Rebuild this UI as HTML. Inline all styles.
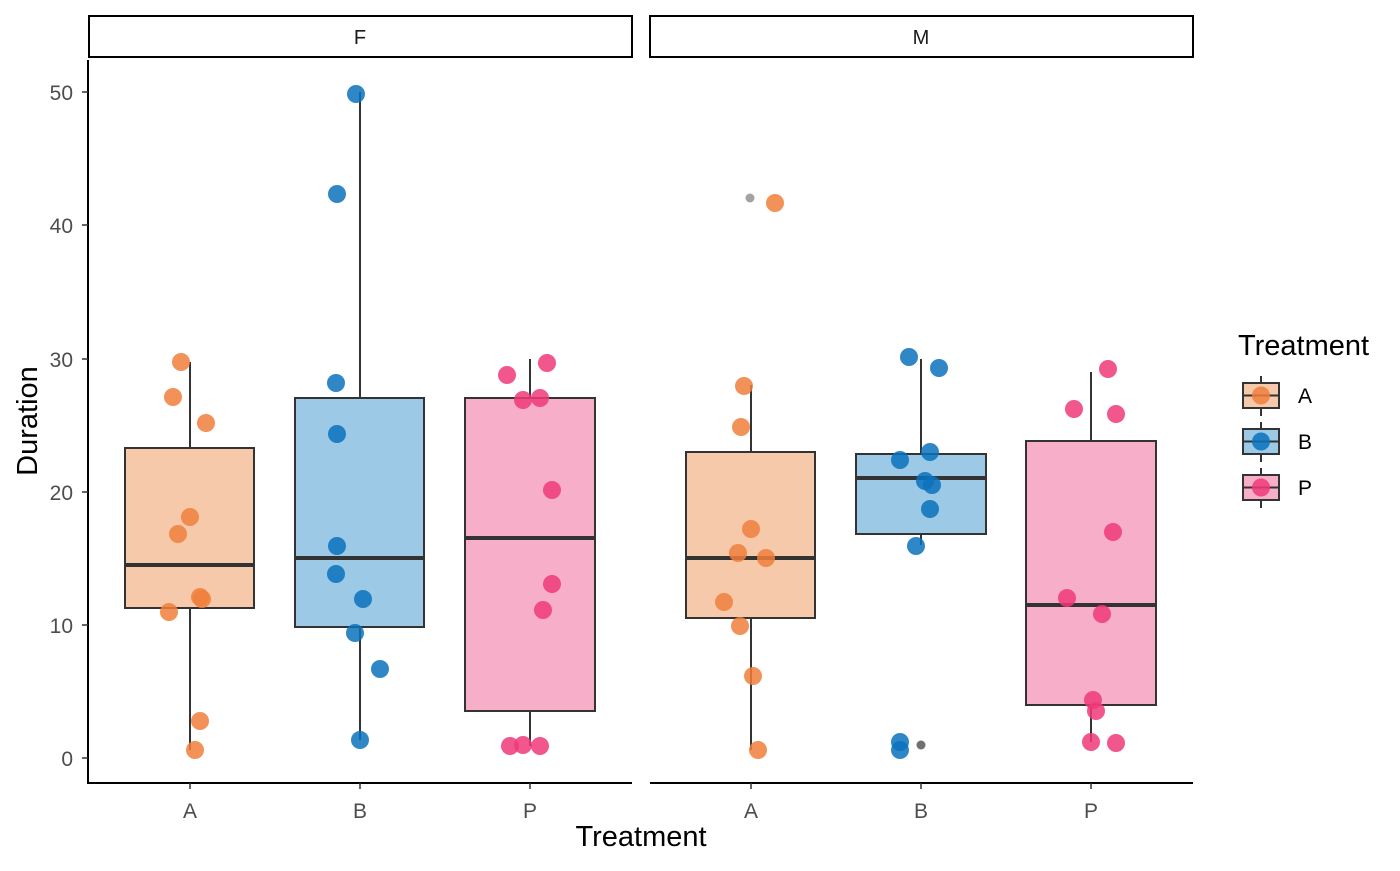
<!DOCTYPE html>
<html><head><style>body{margin:0;background:#fff}svg text{font-family:"Liberation Sans",Arial,sans-serif}</style></head><body>
<svg width="1400" height="866" xmlns="http://www.w3.org/2000/svg">
<rect width="1400" height="866" fill="#fff"/>
<rect x="89" y="16" width="543" height="41" fill="#fff" stroke="#000" stroke-width="2"/>
<rect x="650" y="16" width="543" height="41" fill="#fff" stroke="#000" stroke-width="2"/>
<text x="360" y="44" font-size="20" text-anchor="middle" fill="#1a1a1a">F</text>
<text x="921" y="44" font-size="20" text-anchor="middle" fill="#1a1a1a">M</text>
<g stroke="#000" stroke-width="2" fill="none">
<path d="M88,60V783H632"/><path d="M650,783H1193"/>
</g>
<g stroke="#333" stroke-width="1.5">
<path d="M82,758H88M82,625H88M82,492H88M82,359H88M82,225H88M82,92H88"/>
<path d="M190,783v6M360,783v6M530,783v6M751,783v6M921,783v6M1091,783v6"/>
</g>
<g font-size="21" fill="#4d4d4d" text-anchor="end">
<text x="73" y="766">0</text><text x="73" y="633">10</text><text x="73" y="500">20</text><text x="73" y="367">30</text><text x="73" y="233">40</text><text x="73" y="100">50</text>
</g>
<g font-size="21" fill="#4d4d4d" text-anchor="middle">
<text x="190" y="818">A</text><text x="360" y="818">B</text><text x="530" y="818">P</text>
<text x="751" y="818">A</text><text x="921" y="818">B</text><text x="1091" y="818">P</text>
</g>
<text x="641" y="846" font-size="29" text-anchor="middle" fill="#000">Treatment</text>
<text transform="translate(37,421) rotate(-90)" font-size="29" text-anchor="middle" fill="#000">Duration</text>
<g stroke="#333" stroke-width="2">
<path d="M190,362V448M190,608V750"/><rect x="125" y="448" width="129" height="160" fill="#F7C9AB"/><path d="M125,565H254" stroke-width="4"/>
<path d="M360,92V398M360,627V740"/><rect x="295" y="398" width="129" height="229" fill="#9CC9E6"/><path d="M295,558H424" stroke-width="4"/>
<path d="M530,359V398M530,711V746"/><rect x="465" y="398" width="130" height="313" fill="#F7AFC9"/><path d="M465,538H595" stroke-width="4"/>
<path d="M751,385V452M751,618V750"/><rect x="686" y="452" width="129" height="166" fill="#F7C9AB"/><path d="M686,558H815" stroke-width="4"/>
<path d="M921,359V454M921,534V545"/><rect x="856" y="454" width="130" height="80" fill="#9CC9E6"/><path d="M856,478H986" stroke-width="4"/>
<path d="M1091,372V441M1091,705V742"/><rect x="1026" y="441" width="130" height="264" fill="#F7AFC9"/><path d="M1026,605H1156" stroke-width="4"/>
</g>
<circle cx="750" cy="198" r="4.5" fill="#333" opacity="0.45"/>
<circle cx="921" cy="745" r="4.5" fill="#333" opacity="0.7"/>
<g fill="#F07F3C" fill-opacity="0.85">
<circle cx="181" cy="362" r="9"/><circle cx="173" cy="397" r="9"/><circle cx="206" cy="423" r="9"/><circle cx="190" cy="517" r="9"/><circle cx="178" cy="534" r="9"/><circle cx="169" cy="612" r="9"/><circle cx="200" cy="597" r="9"/><circle cx="202" cy="599" r="9"/><circle cx="200" cy="721" r="9"/><circle cx="195" cy="750" r="9"/>
<circle cx="775" cy="203" r="9"/><circle cx="744" cy="386" r="9"/><circle cx="741" cy="427" r="9"/><circle cx="751" cy="529" r="9"/><circle cx="738" cy="553" r="9"/><circle cx="766" cy="558" r="9"/><circle cx="724" cy="602" r="9"/><circle cx="740" cy="626" r="9"/><circle cx="753" cy="676" r="9"/><circle cx="758" cy="750" r="9"/>
</g>
<g fill="#0A72BC" fill-opacity="0.85">
<circle cx="356" cy="94" r="9"/><circle cx="337" cy="194" r="9"/><circle cx="336" cy="383" r="9"/><circle cx="337" cy="434" r="9"/><circle cx="337" cy="546" r="9"/><circle cx="336" cy="574" r="9"/><circle cx="363" cy="599" r="9"/><circle cx="355" cy="633" r="9"/><circle cx="380" cy="669" r="9"/><circle cx="360" cy="740" r="9"/>
<circle cx="909" cy="357" r="9"/><circle cx="939" cy="368" r="9"/><circle cx="930" cy="452" r="9"/><circle cx="900" cy="460" r="9"/><circle cx="925" cy="481" r="9"/><circle cx="932" cy="485" r="9"/><circle cx="930" cy="509" r="9"/><circle cx="916" cy="546" r="9"/><circle cx="900" cy="742" r="9"/><circle cx="900" cy="750" r="9"/>
</g>
<g fill="#EE3A78" fill-opacity="0.85">
<circle cx="547" cy="363" r="9"/><circle cx="507" cy="375" r="9"/><circle cx="540" cy="398" r="9"/><circle cx="523" cy="400" r="9"/><circle cx="552" cy="490" r="9"/><circle cx="552" cy="584" r="9"/><circle cx="543" cy="610" r="9"/><circle cx="510" cy="746" r="9"/><circle cx="523" cy="745" r="9"/><circle cx="540" cy="746" r="9"/>
<circle cx="1108" cy="369" r="9"/><circle cx="1074" cy="409" r="9"/><circle cx="1116" cy="414" r="9"/><circle cx="1113" cy="532" r="9"/><circle cx="1067" cy="598" r="9"/><circle cx="1102" cy="614" r="9"/><circle cx="1093" cy="700" r="9"/><circle cx="1096" cy="711" r="9"/><circle cx="1091" cy="742" r="9"/><circle cx="1116" cy="743" r="9"/>
</g>
<text x="1238" y="355" font-size="29" fill="#000">Treatment</text>
<g stroke="#333" stroke-width="2">
<path d="M1261,376v7M1261,408v8"/><rect x="1243" y="383" width="36" height="25" fill="#F7C9AB"/><path d="M1243,395.5H1279"/>
<path d="M1261,422v7M1261,454v8"/><rect x="1243" y="429" width="36" height="25" fill="#9CC9E6"/><path d="M1243,441.5H1279"/>
<path d="M1261,468v7M1261,500v8"/><rect x="1243" y="475" width="36" height="25" fill="#F7AFC9"/><path d="M1243,487.5H1279"/>
</g>
<circle cx="1261" cy="395.5" r="9" fill="#F07F3C" fill-opacity="0.85"/>
<circle cx="1261" cy="441.5" r="9" fill="#0A72BC" fill-opacity="0.85"/>
<circle cx="1261" cy="487.5" r="9" fill="#EE3A78" fill-opacity="0.85"/>
<g font-size="21" fill="#000"><text x="1298" y="403">A</text><text x="1298" y="449">B</text><text x="1298" y="495">P</text></g>
</svg>
</body></html>
